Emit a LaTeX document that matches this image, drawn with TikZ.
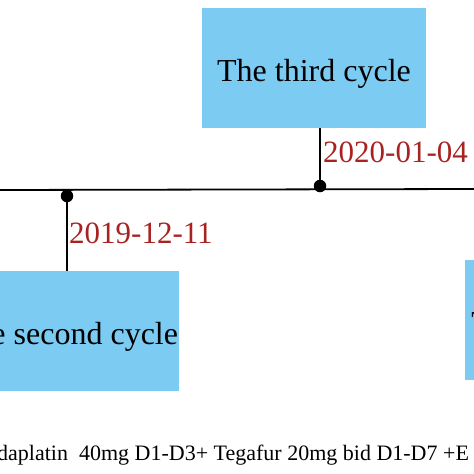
\documentclass[tikz,border=0pt]{standalone}
\usepackage{fontspec}
\setmainfont{Liberation Serif}
\definecolor{cyclebox}{HTML}{7BCBF2}
\definecolor{datered}{HTML}{A92222}
\begin{document}
\begin{tikzpicture}[x=1pt,y=-1pt,
        cycle/.style={rectangle,fill=cyclebox,minimum width=224pt,minimum height=120pt,inner sep=0pt,text height=34pt,text depth=7pt,font=\fontsize{32}{36}\selectfont}, % boxes of the cycles
        date/.style={anchor=base west,inner sep=0pt,text=datered,font=\fontsize{31}{34}\selectfont},
        dot/.style={circle,fill=black,inner sep=0pt,minimum size=12.5pt}
    ]
        \useasboundingbox (0,0) rectangle (474,474);
        \clip (0,0) rectangle (474,474);
        % timeline
        \coordinate (start) at (0,190);
        \coordinate (end) at (474,189);
        \draw[line width=1.8pt] (start) -- (end);
        \node[dot] (d3) at (320,186) {};
        \node[dot] (d2) at (67,196) {};
        % cycles
        \node[cycle] (third) at (314,68) {The third cycle};
        \node[cycle] (second) at (67,331) {The second cycle};
        \node[cycle] (fourth) at (577,320) {The fourth cycle};
        \draw[line width=1.2pt] (d3 |- third.south) -- (d3);
        \draw[line width=1.2pt] (d2) -- (d2 |- second.north);
        % dates
        \node[date] (date3) at (323,162) {2020-01-04};
        \node[date] (date2) at (69,243) {2019-12-11};
        \node[anchor=base west,inner sep=0pt,font=\fontsize{22}{24}\selectfont] (regimen) at (-3,460) {daplatin\ \ 40mg D1-D3+ Tegafur 20mg bid D1-D7 +E};
    \end{tikzpicture}
\end{document}
